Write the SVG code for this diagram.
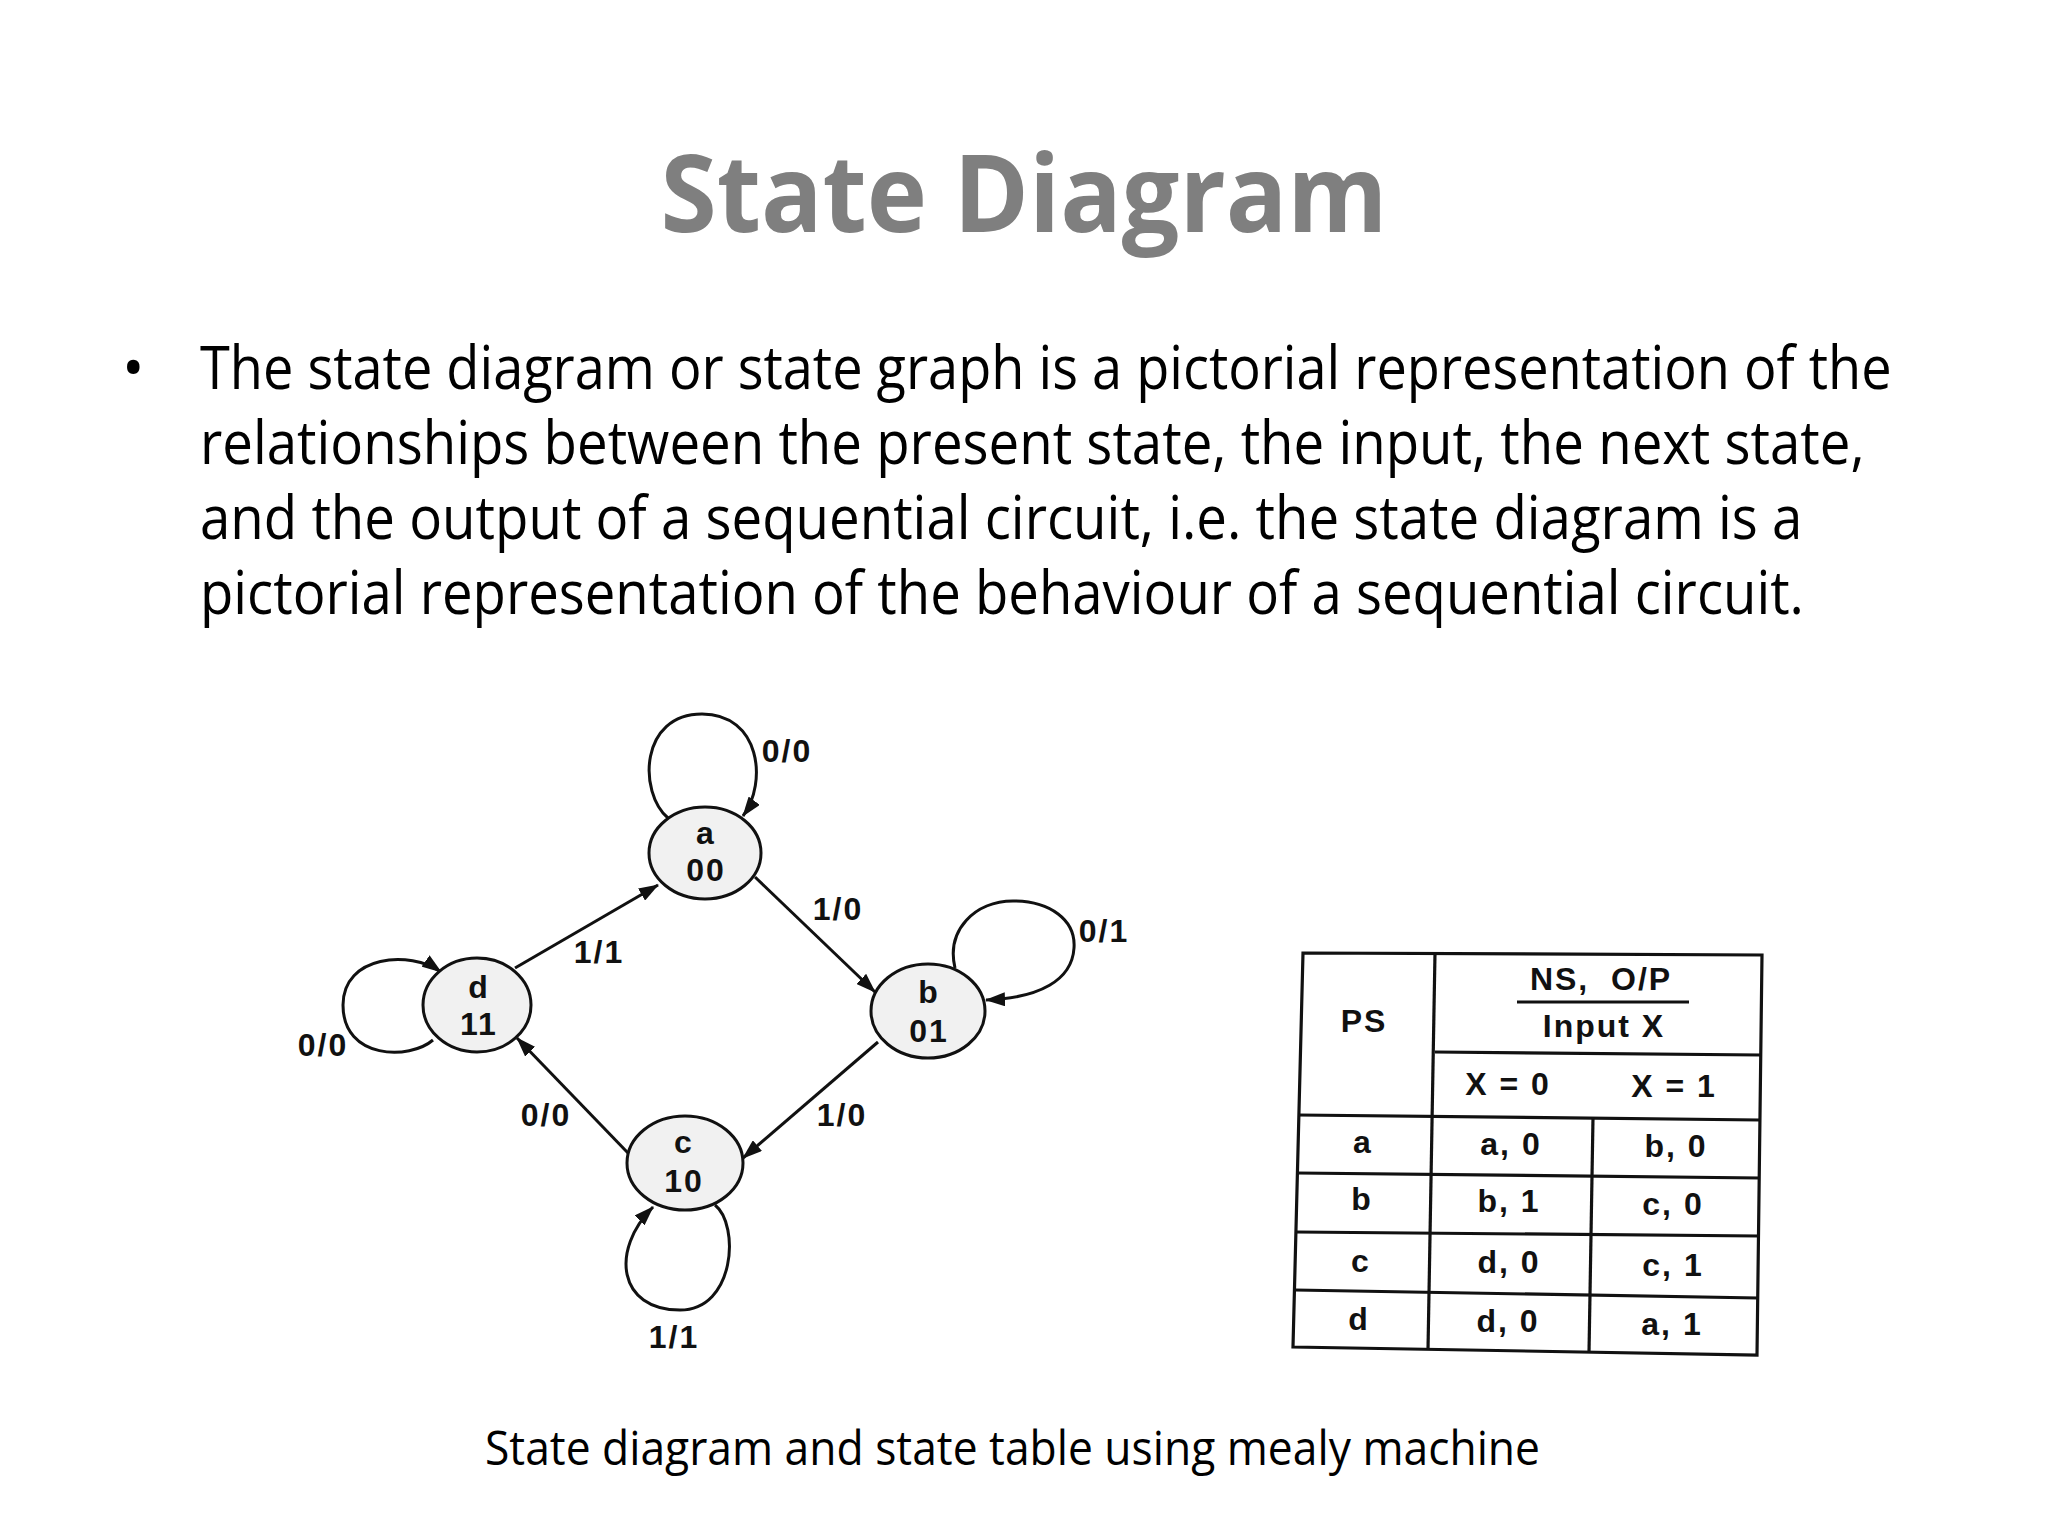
<svg xmlns="http://www.w3.org/2000/svg" width="2048" height="1536" viewBox="0 0 2048 1536">
<defs>
<style>
.title{font-family:"Open Sans","Liberation Sans",sans-serif;font-weight:bold;fill:#7f7f7f;font-size:108px}
.body{font-family:"Open Sans","Liberation Sans",sans-serif;fill:#000;font-size:60px}
.cap{font-family:"Open Sans","Liberation Sans",sans-serif;fill:#000;font-size:47px}
.lbl{font-family:"Liberation Sans",Arial,sans-serif;fill:#111;font-size:32px;font-weight:bold;text-anchor:middle;letter-spacing:2px}
.node{fill:#f1f1f1;stroke:#111;stroke-width:3}
.edge{fill:none;stroke:#111;stroke-width:3;marker-end:url(#arr)}
.tl{stroke:#111;stroke-width:3.2;fill:none}
</style>
<marker id="arr" markerUnits="userSpaceOnUse" markerWidth="20" markerHeight="14" refX="19" refY="7" orient="auto">
<path d="M0,0 L20,7 L0,14 z" fill="#111"/>
</marker>
</defs>
<rect width="2048" height="1536" fill="#fff"/>
<text class="title" x="1024" y="232" text-anchor="middle" textLength="727" lengthAdjust="spacingAndGlyphs">State Diagram</text>
<g id="bullet-text">
<text class="body" x="122" y="389">•</text>
<g transform="scale(0.82,1)">
<text class="body" x="243.9" y="389" textLength="2063" lengthAdjust="spacingAndGlyphs">The state diagram or state graph is a pictorial representation of the</text>
<text class="body" x="243.9" y="464" textLength="2030" lengthAdjust="spacingAndGlyphs">relationships between the present state, the input, the next state,</text>
<text class="body" x="243.9" y="539" textLength="1954" lengthAdjust="spacingAndGlyphs">and the output of a sequential circuit, i.e. the state diagram is a</text>
<text class="body" x="243.9" y="614" textLength="1956" lengthAdjust="spacingAndGlyphs">pictorial representation of the behaviour of a sequential circuit.</text>
</g>
</g>
<g id="connectors">
<path class="edge" d="M755,877 L875,992"/>
<path class="edge" d="M878,1042 L743,1158"/>
<path class="edge" d="M628,1153 L517,1038"/>
<path class="edge" d="M515,968 L658,885"/>
<path class="edge" d="M668,818 C638,792 640,714 702,714 C760,714 768,782 743,816"/>
<path class="edge" d="M433,1040 C410,1060 343,1060 343,1005 C343,955 410,950 441,972"/>
<path class="edge" d="M955,968 C946,930 975,901 1013,901 C1050,901 1076,920 1074,948 C1072,980 1040,998 986,1000"/>
<path class="edge" d="M715,1205 C740,1225 735,1310 680,1310 C618,1310 610,1250 653,1207"/>
<text class="lbl" x="787" y="762">0/0</text>
<text class="lbl" x="838" y="920">1/0</text>
<text class="lbl" x="1104" y="942">0/1</text>
<text class="lbl" x="599" y="963">1/1</text>
<text class="lbl" x="323" y="1056">0/0</text>
<text class="lbl" x="842" y="1126">1/0</text>
<text class="lbl" x="546" y="1126">0/0</text>
<text class="lbl" x="674" y="1348">1/1</text>
</g>
<g id="node-a">
<ellipse class="node" cx="705" cy="853" rx="56" ry="46"/>
<text class="lbl" x="706" y="844">a</text>
<text class="lbl" x="706" y="881">00</text>
</g>
<g id="node-b">
<ellipse class="node" cx="928" cy="1011" rx="57" ry="47"/>
<text class="lbl" x="929" y="1003">b</text>
<text class="lbl" x="929" y="1042">01</text>
</g>
<g id="node-c">
<ellipse class="node" cx="685" cy="1163" rx="58" ry="47"/>
<text class="lbl" x="684" y="1153">c</text>
<text class="lbl" x="684" y="1192">10</text>
</g>
<g id="node-d">
<ellipse class="node" cx="477" cy="1005" rx="54" ry="47"/>
<text class="lbl" x="479" y="998">d</text>
<text class="lbl" x="479" y="1035">11</text>
</g>
<g id="state-table">
<path class="tl" d="M1303,953 L1762,955 L1757,1355 L1293,1347 Z"/>
<path class="tl" d="M1435,953 L1428,1350"/>
<path class="tl" d="M1435,1052 L1761,1055"/>
<path class="tl" d="M1298,1115 L1760,1120"/>
<path class="tl" d="M1593,1118 L1589,1353"/>
<path class="tl" d="M1297,1173 L1760,1178"/>
<path class="tl" d="M1296,1232 L1759,1236"/>
<path class="tl" d="M1295,1290 L1758,1298"/>
<path class="tl" d="M1517,1002 L1689,1002" stroke-width="3"/>
<text class="lbl" x="1601" y="990">NS,&#160; O/P</text>
<text class="lbl" x="1604" y="1037">Input X</text>
<text class="lbl" x="1364" y="1032">PS</text>
<text class="lbl" x="1508" y="1095">X = 0</text>
<text class="lbl" x="1674" y="1097">X = 1</text>
<text class="lbl" x="1363" y="1153">a</text>
<text class="lbl" x="1511" y="1155">a, 0</text>
<text class="lbl" x="1676" y="1157">b, 0</text>
<text class="lbl" x="1362" y="1210">b</text>
<text class="lbl" x="1509" y="1212">b, 1</text>
<text class="lbl" x="1673" y="1215">c, 0</text>
<text class="lbl" x="1361" y="1272">c</text>
<text class="lbl" x="1509" y="1273">d, 0</text>
<text class="lbl" x="1673" y="1276">c, 1</text>
<text class="lbl" x="1359" y="1330">d</text>
<text class="lbl" x="1508" y="1332">d, 0</text>
<text class="lbl" x="1672" y="1335">a, 1</text>
</g>
<text class="cap" x="485" y="1465" textLength="1055" lengthAdjust="spacingAndGlyphs">State diagram and state table using mealy machine</text>
</svg>
